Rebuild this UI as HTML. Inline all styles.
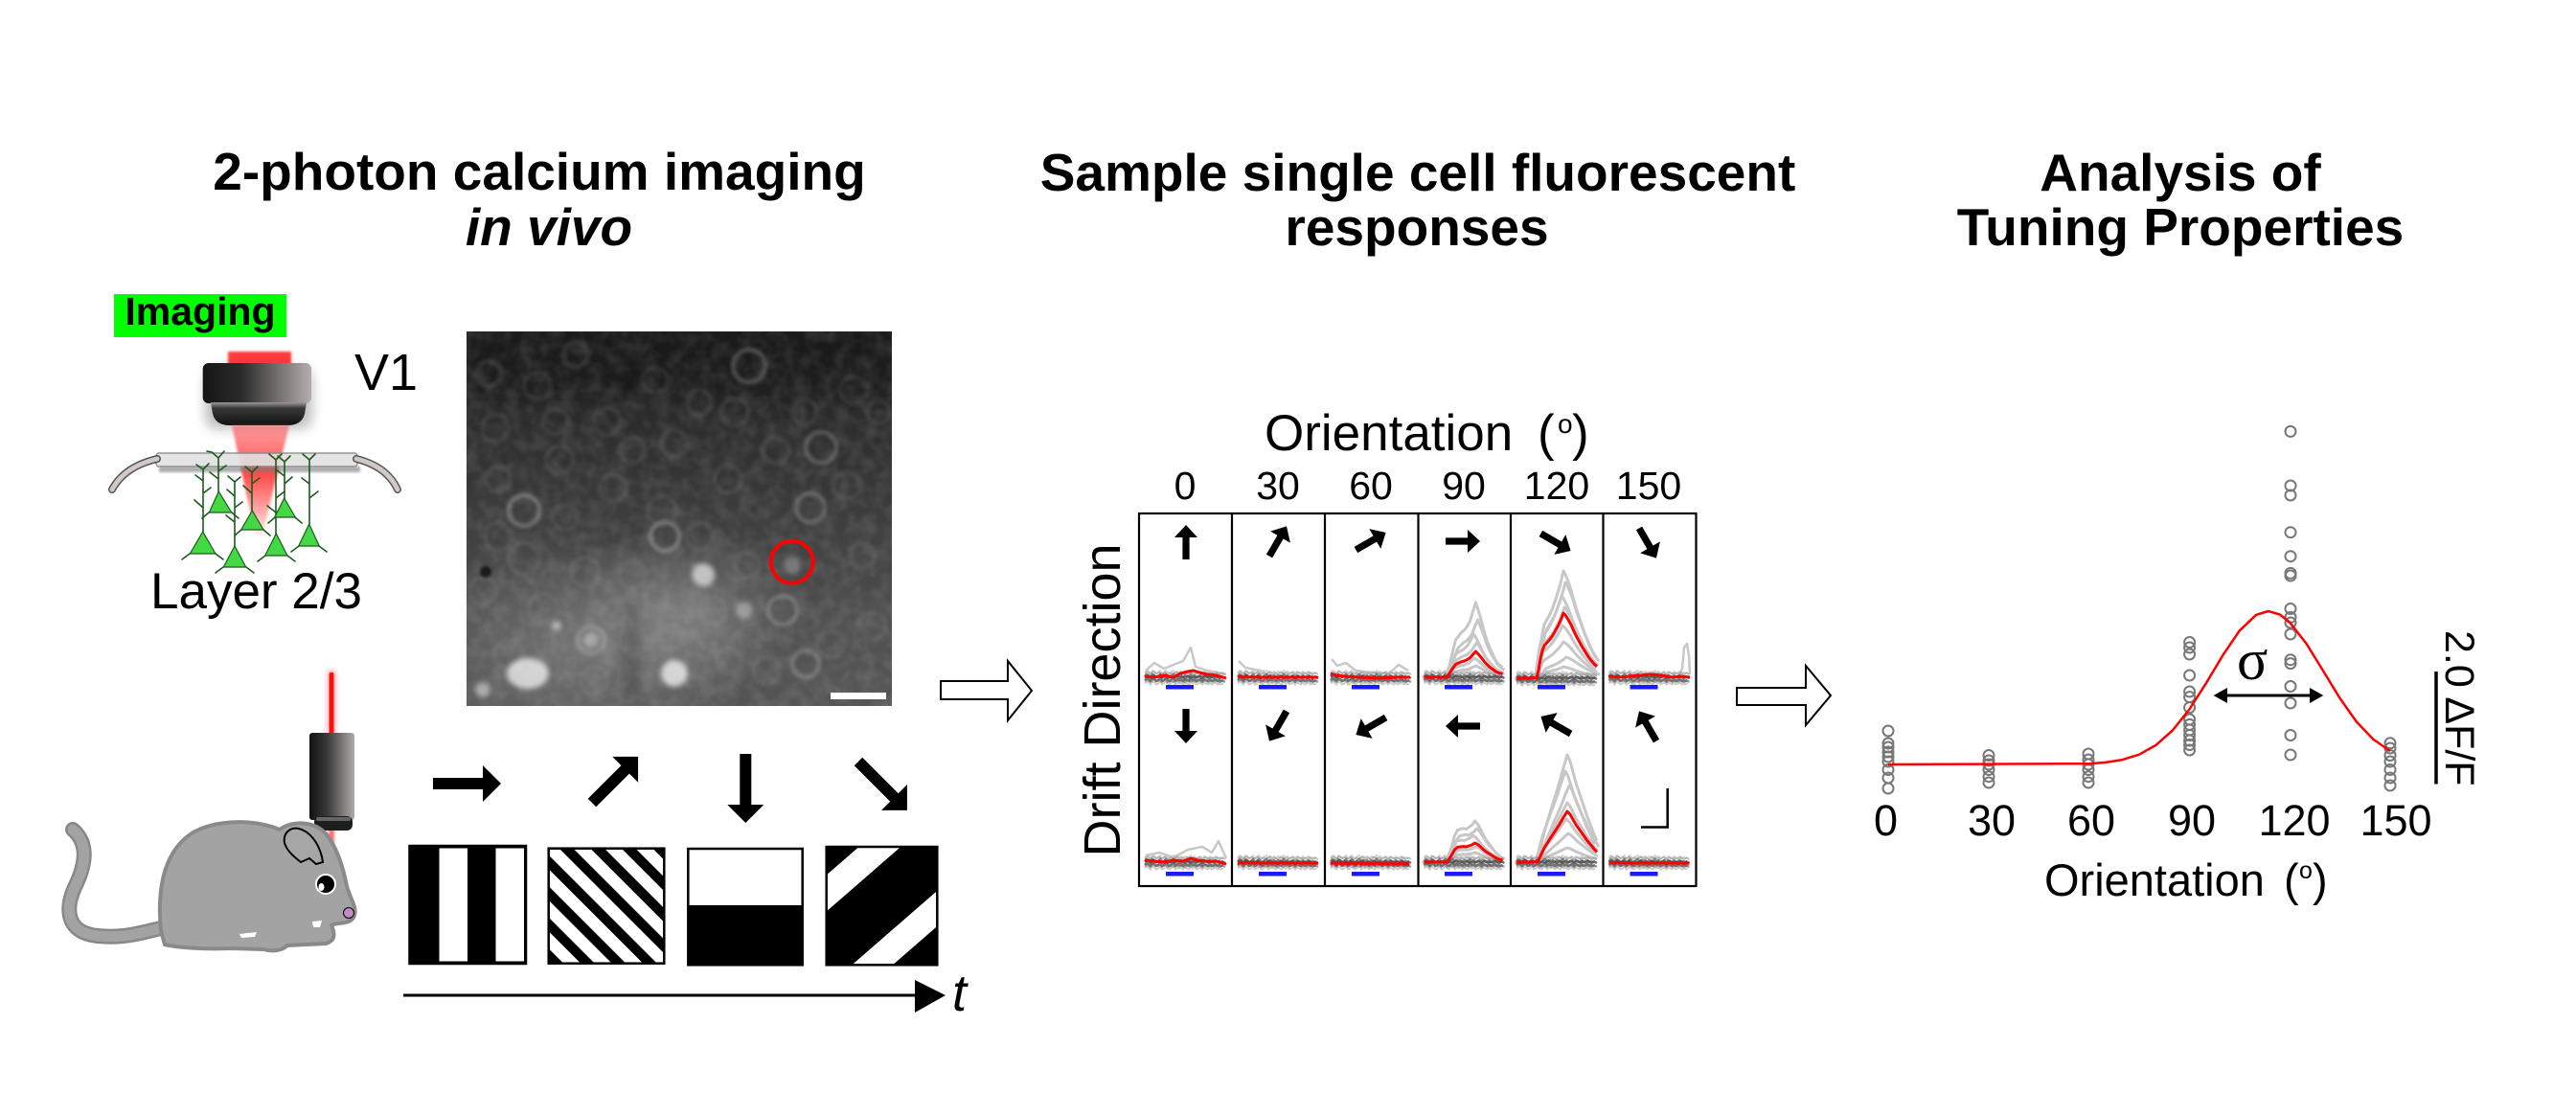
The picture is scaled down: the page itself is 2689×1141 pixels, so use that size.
<!DOCTYPE html>
<html><head><meta charset="utf-8"><style>
html,body{margin:0;padding:0;background:#fff;}
body{width:2689px;height:1141px;overflow:hidden;}
svg{display:block;}
text{font-family:"Liberation Sans",Arial,sans-serif;fill:#000;}
</style></head><body>
<svg width="2689" height="1141" viewBox="0 0 2689 1141" xmlns="http://www.w3.org/2000/svg">
<defs>
  <linearGradient id="objG" x1="0" x2="1" y1="0" y2="0">
    <stop offset="0" stop-color="#151515"/><stop offset="0.35" stop-color="#2a2a2a"/><stop offset="1" stop-color="#b5adad"/>
  </linearGradient>
  <linearGradient id="objL" x1="0" x2="0" y1="0" y2="1">
    <stop offset="0" stop-color="#9a9a9a"/><stop offset="0.25" stop-color="#3a3a3a"/><stop offset="1" stop-color="#111"/>
  </linearGradient>
  <linearGradient id="cylG" x1="0" x2="1" y1="0" y2="0">
    <stop offset="0" stop-color="#111"/><stop offset="0.4" stop-color="#3a3a3a"/><stop offset="1" stop-color="#b0aaaa"/>
  </linearGradient>
  <linearGradient id="beamG" x1="0" x2="0" y1="0" y2="1">
    <stop offset="0" stop-color="#ff5050" stop-opacity="0.55"/><stop offset="0.45" stop-color="#ff2a2a" stop-opacity="0.85"/><stop offset="1" stop-color="#ff2a2a" stop-opacity="0.1"/>
  </linearGradient>
  <linearGradient id="mgG" x1="0" x2="0" y1="0" y2="1">
    <stop offset="0" stop-color="#1e1e1e"/><stop offset="0.35" stop-color="#333"/><stop offset="0.6" stop-color="#454545"/><stop offset="1" stop-color="#555"/>
  </linearGradient>
  <radialGradient id="brightG">
    <stop offset="0" stop-color="#fff" stop-opacity="0.22"/><stop offset="1" stop-color="#fff" stop-opacity="0"/>
  </radialGradient>
  <filter id="b1" x="-50%" y="-50%" width="200%" height="200%"><feGaussianBlur stdDeviation="1.2"/></filter>
  <filter id="b2" x="-50%" y="-50%" width="200%" height="200%"><feGaussianBlur stdDeviation="2"/></filter>
  <filter id="b3" x="-50%" y="-50%" width="200%" height="200%"><feGaussianBlur stdDeviation="3"/></filter>
  <filter id="b6" x="-50%" y="-50%" width="200%" height="200%"><feGaussianBlur stdDeviation="6"/></filter>
  <filter id="noise" x="0" y="0" width="100%" height="100%">
    <feTurbulence type="fractalNoise" baseFrequency="0.07" numOctaves="2" seed="3" result="t"/>
    <feColorMatrix type="matrix" values="0 0 0 0 1  0 0 0 0 1  0 0 0 0 1  0.9 0 0 0 -0.3"/>
  </filter>
  <clipPath id="mgClip"><rect x="487" y="346" width="444" height="391"/></clipPath>
  <clipPath id="g4c"><rect x="862.7" y="884" width="115.6" height="123.3"/></clipPath>
  <pattern id="diag" patternUnits="userSpaceOnUse" width="23" height="23" patternTransform="rotate(-45)">
    <rect x="0" y="0" width="23" height="23" fill="#000"/>
    <rect x="3.8" y="0" width="12.7" height="23" fill="#fff"/>
  </pattern>
  <path id="n1" vector-effect="non-scaling-stroke" d="M6 0 l3 -1.5 l3 2 l3 -2.5 l3 2 l3 -1 l3 1.5 l3 -2 l3 2.5 l3 -1.5 l3 1 l3 -2 l3 2 l3 -1 l3 1.5 l3 -2.5 l3 2 l3 -1 l3 1 l3 -1.5 l3 2 l3 -2 l3 1.5 l3 -1 l3 1 l3 -1.5 l3 2 l3 -1.5 l3 1.5"/>
  <path id="n2" vector-effect="non-scaling-stroke" d="M6 1 l2 -2 l2 1 l2 2 l2 -3 l2 1 l2 2 l2 -1 l2 -2 l2 3 l2 -1 l2 -2 l2 2 l2 1 l2 -2 l2 -1 l2 3 l2 -2 l2 1 l2 -1 l2 2 l2 -2 l2 1 l2 1 l2 -3 l2 2 l2 -1 l2 2 l2 -1 l2 -1 l2 2 l2 -2 l2 1 l2 1 l2 -2 l2 2 l2 -1 l2 -1 l2 2 l2 -1 l2 1 l2 -1"/>
  <path id="h120" vector-effect="non-scaling-stroke" d="M6 0 L10 1 L14 -1 L18 1 L22 -1 L27 0 L29 -12 L31 -30 L33 -42 L35 -50 L38 -55 L41 -60 L44 -66 L47 -74 L50 -82 L53 -92 L55 -100 L57 -97 L60 -90 L63 -82 L66 -72 L69 -63 L72 -55 L75 -47 L78 -40 L81 -33 L84 -27 L87 -22 L90 -18"/>
  <path id="h90" vector-effect="non-scaling-stroke" d="M6 0 L10 -1 L14 1 L18 -1 L22 1 L26 0 L30 0 L33 -18 L36 -35 L39 -50 L42 -55 L45 -60 L48 -63 L51 -68 L54 -75 L57 -88 L60 -100 L63 -88 L66 -75 L69 -60 L72 -48 L75 -38 L78 -30 L81 -22 L84 -17 L88 -13"/>
  <path id="h90b" vector-effect="non-scaling-stroke" d="M6 0 L10 1 L14 -1 L18 1 L22 -1 L26 0 L30 0 L34 -30 L38 -65 L41 -78 L44 -80 L47 -82 L50 -80 L53 -85 L56 -90 L59 -100 L62 -92 L65 -80 L68 -65 L72 -50 L76 -38 L80 -25 L84 -15 L88 -10"/>
  <path id="h120b" vector-effect="non-scaling-stroke" d="M6 0 L10 1 L14 -1 L18 1 L22 -1 L28 0 L31 -12 L35 -28 L39 -40 L43 -52 L47 -63 L51 -75 L55 -88 L59 -100 L62 -94 L65 -84 L68 -74 L71 -66 L74 -58 L77 -50 L80 -42 L84 -33 L87 -26 L90 -20"/>
  <polygon id="sa" points="-18,-3.6 5,-3.6 5,-12 18,0 5,12 5,3.6 -18,3.6"/>
  <g id="band" fill="none">
    <use href="#n2" transform="translate(0,-6)" stroke="#c4c4c4" stroke-width="2" opacity="0.7"/>
    <use href="#n1" transform="translate(0,-4)" stroke="#999" stroke-width="2" opacity="0.6"/>
    <use href="#n2" transform="translate(0,-2)" stroke="#555" stroke-width="2.5" opacity="0.7"/>
    <use href="#n1" transform="translate(0,0)" stroke="#444" stroke-width="2.5" opacity="0.7"/>
    <use href="#n2" transform="translate(0,2)" stroke="#444" stroke-width="2.5" opacity="0.7"/>
    <use href="#n1" transform="translate(0,4)" stroke="#666" stroke-width="2.5" opacity="0.6"/>
    <use href="#n2" transform="translate(0,5.5)" stroke="#999" stroke-width="2" opacity="0.5"/>
  </g>
</defs>

<rect x="0" y="0" width="2689" height="1141" fill="#fff"/>

<!-- ============ TITLES ============ -->
<text x="563" y="198" font-size="55" font-weight="bold" text-anchor="middle">2-photon calcium imaging</text>
<text x="573" y="256" font-size="55" font-weight="bold" font-style="italic" text-anchor="middle">in vivo</text>
<text x="1480" y="199" font-size="55" font-weight="bold" text-anchor="middle">Sample single cell fluorescent</text>
<text x="1479" y="256" font-size="55" font-weight="bold" text-anchor="middle">responses</text>
<text x="2276" y="199" font-size="55" font-weight="bold" text-anchor="middle">Analysis of</text>
<text x="2276" y="256" font-size="55" font-weight="bold" text-anchor="middle">Tuning Properties</text>

<!-- ============ LEFT: imaging schematic ============ -->
<rect x="119" y="307" width="180" height="45" fill="#00ff00"/>
<text x="209" y="339" font-size="41" font-weight="bold" text-anchor="middle">Imaging</text>
<text x="370" y="407" font-size="54">V1</text>

<rect x="238" y="367" width="66" height="14" fill="#ff3b3b" filter="url(#b1)"/>
<rect x="214" y="384" width="112" height="64" rx="12" fill="#000" opacity="0.25" filter="url(#b6)"/>
<rect x="211.7" y="379" width="113.3" height="42" rx="6" fill="url(#objG)"/>
<path d="M220 420 L320 420 L318 432 Q315 444 300 444 L240 444 Q225 444 222 432 Z" fill="url(#objL)"/>
<polygon points="242,444 302,444 274,558 266,558" fill="url(#beamG)" filter="url(#b1)"/>

<rect x="166" y="487" width="210" height="6" fill="#777" opacity="0.6" filter="url(#b1)"/>
<rect x="163" y="473" width="210" height="14" rx="3" fill="#e2e2e2" stroke="#8a8a8a" stroke-width="1.5" opacity="0.9"/>
<path d="M117 511 Q130 487 164 479" fill="none" stroke="#555" stroke-width="8" stroke-linecap="round"/>
<path d="M117 511 Q130 487 164 479" fill="none" stroke="#d2c8c8" stroke-width="5" stroke-linecap="round"/>
<path d="M372 479 Q404 487 415 511" fill="none" stroke="#555" stroke-width="8" stroke-linecap="round"/>
<path d="M372 479 Q404 487 415 511" fill="none" stroke="#d2c8c8" stroke-width="5" stroke-linecap="round"/>

<g stroke="#1d5a1d" stroke-width="1.6" fill="none" stroke-linecap="round">
  <path d="M228 513 V478 M228 478 l-7 -6 M228 478 l6 -7 M228 500 l-9 -7 M228 492 l8 -6 M221 472 l-5 -1"/>
  <path d="M263 533 V493 M263 493 l-7 -6 M263 493 l6 -6 M263 515 l-9 -8 M263 505 l8 -6"/>
  <path d="M297 520 V482 M297 482 l-7 -6 M297 482 l6 -6 M297 505 l8 -7 M297 497 l-8 -6"/>
  <path d="M212 555 V490 M212 490 l-7 -5 M212 490 l6 -6 M212 530 l-9 -8 M212 515 l8 -6 M212 502 l-8 -6"/>
  <path d="M245 570 V503 M245 503 l-7 -6 M245 503 l6 -5 M245 545 l-9 -7 M245 530 l8 -6 M245 518 l-8 -7"/>
  <path d="M288 557 V480 M288 480 l-7 -6 M288 480 l6 -6 M288 535 l-9 -7 M288 520 l9 -7"/>
  <path d="M323 547 V480 M323 480 l-7 -6 M323 480 l6 -6 M323 520 l9 -7 M323 505 l-8 -6"/>
  <path d="M218 535 l-7 6 M242 535 l7 6 M252 553 l-7 6 M275 553 l7 6 M287 540 l-7 6 M308 540 l7 6 M198 578 l-8 6 M225 578 l8 6 M233 592 l-8 6 M257 592 l8 6 M277 580 l-8 6 M300 580 l8 6 M312 570 l-8 6 M333 570 l8 6"/>
</g>
<g fill="#44d944" stroke="#1d5a1d" stroke-width="1.2">
  <polygon points="228.3,513 218.3,535 241.7,535"/>
  <polygon points="263.3,533 251.7,553 275,553"/>
  <polygon points="296.7,520 286.7,540 308.3,540"/>
  <polygon points="211.7,555 198.3,578 225,578"/>
  <polygon points="245,570 233.3,592 256.7,592"/>
  <polygon points="288.3,557 276.7,580 300,580"/>
  <polygon points="322.7,547 311.7,570 333.3,570"/>
</g>
<text x="157" y="635" font-size="53">Layer 2/3</text>

<!-- ============ Micrograph ============ -->
<g clip-path="url(#mgClip)">
  <rect x="487" y="346" width="444" height="391" fill="url(#mgG)"/>
  <ellipse cx="610" cy="670" rx="190" ry="110" fill="url(#brightG)"/>
  <ellipse cx="720" cy="640" rx="130" ry="90" fill="url(#brightG)"/>
  <ellipse cx="880" cy="690" rx="80" ry="70" fill="#585858" opacity="0.4" filter="url(#b6)"/>
  <rect x="487" y="346" width="444" height="70" fill="#111" opacity="0.3" filter="url(#b6)"/>
  <ellipse cx="657" cy="680" rx="12" ry="50" fill="#222" opacity="0.25" filter="url(#b6)"/>
  <rect x="487" y="346" width="444" height="391" filter="url(#noise)" opacity="0.22"/>
  <g fill="none" stroke="#a0a0a0" stroke-width="3" opacity="0.22" filter="url(#b2)">
    <circle cx="547" cy="533" r="16"/><circle cx="691" cy="533" r="15"/><circle cx="694" cy="560" r="15"/>
    <circle cx="547" cy="583" r="16"/><circle cx="611" cy="597" r="15"/><circle cx="504" cy="617" r="14"/>
    <circle cx="567" cy="635" r="15"/><circle cx="531" cy="683" r="15"/><circle cx="911" cy="653" r="14"/>
    <circle cx="867" cy="673" r="14"/><circle cx="744" cy="637" r="14"/><circle cx="561" cy="403" r="14"/>
    <circle cx="634" cy="440" r="14"/><circle cx="704" cy="463" r="14"/><circle cx="584" cy="480" r="14"/>
    <circle cx="517" cy="447" r="14"/><circle cx="767" cy="430" r="14"/><circle cx="891" cy="407" r="14"/>
    <circle cx="884" cy="507" r="14"/><circle cx="917" cy="430" r="12"/><circle cx="601" cy="370" r="13"/>
    <circle cx="684" cy="397" r="13"/><circle cx="640" cy="510" r="14"/><circle cx="760" cy="500" r="14"/>
    <circle cx="810" cy="470" r="14"/><circle cx="520" cy="500" r="13"/><circle cx="660" cy="600" r="14"/>
    <circle cx="800" cy="700" r="14"/><circle cx="760" cy="690" r="13"/><circle cx="900" cy="580" r="13"/>
    <circle cx="840" cy="430" r="13"/><circle cx="730" cy="420" r="13"/><circle cx="620" cy="710" r="14"/>
    <circle cx="520" cy="560" r="14"/><circle cx="580" cy="440" r="13"/><circle cx="660" cy="470" r="13"/>
    <circle cx="730" cy="560" r="14"/><circle cx="780" cy="590" r="13"/><circle cx="590" cy="540" r="13"/>
    <circle cx="510" cy="390" r="13"/><circle cx="640" cy="640" r="13"/><circle cx="700" cy="665" r="13"/>
  </g>
  <g fill="none" stroke="#cfcfcf" stroke-width="3" opacity="0.4" filter="url(#b2)">
    <circle cx="782" cy="382" r="17"/><circle cx="857" cy="467" r="16"/><circle cx="846" cy="530" r="15"/>
    <circle cx="617" cy="668" r="14"/><circle cx="841" cy="693" r="14"/><circle cx="817" cy="637" r="15"/>
    <circle cx="547" cy="533" r="16"/><circle cx="694" cy="560" r="15"/>
  </g>
  <g fill="#fff" filter="url(#b3)">
    <ellipse cx="551" cy="703" rx="22" ry="16" opacity="0.7"/>
    <circle cx="704" cy="703" r="14" opacity="0.7"/>
    <circle cx="734" cy="600" r="12" opacity="0.6"/>
    <circle cx="617" cy="668" r="8" opacity="0.35"/>
    <circle cx="581" cy="653" r="5" opacity="0.5"/>
    <circle cx="777" cy="637" r="9" opacity="0.35"/>
    <circle cx="504" cy="720" r="8" opacity="0.45"/>
    <circle cx="827" cy="590" r="9" opacity="0.25"/>
  </g>
  <circle cx="507" cy="597" r="6" fill="#111" opacity="0.8" filter="url(#b1)"/>
  <circle cx="657" cy="397" r="8" fill="#111" opacity="0.5" filter="url(#b3)"/>
</g>
<circle cx="826.7" cy="586.7" r="22" fill="none" stroke="#ff0000" stroke-width="4"/>
<rect x="867" y="723" width="58" height="7" fill="#fff"/>

<polygon points="982,711 1052,711 1052,690 1077,721 1052,752 1052,730 982,730" fill="#fff" stroke="#000" stroke-width="2"/>

<!-- ============ Mouse + laser ============ -->
<rect x="342" y="700" width="8" height="66" fill="#ff0000" opacity="0.35" filter="url(#b3)"/>
<rect x="343.5" y="702" width="5" height="64" rx="2" fill="#ff1010"/>
<rect x="343" y="866" width="6" height="14" fill="#ff3030" opacity="0.7" filter="url(#b1)"/>
<rect x="323" y="765" width="47" height="91" rx="3" fill="url(#cylG)"/>
<rect x="328" y="852" width="40" height="15" rx="6" fill="#1e1e1e"/>
<rect x="330" y="853" width="36" height="4" rx="2" fill="#666"/>

<path d="M76 866 C 92 880, 90 900, 80 922 C 66 950, 70 974, 102 977 C 130 980, 150 973, 172 968" fill="none" stroke="#888" stroke-width="16" stroke-linecap="round"/>
<path d="M76 866 C 92 880, 90 900, 80 922 C 66 950, 70 974, 102 977 C 130 980, 150 973, 172 968" fill="none" stroke="#a3a3a3" stroke-width="11" stroke-linecap="round"/>
<path d="M168 972 C 164 930, 170 890, 200 870 C 225 855, 265 855, 292 866 C 302 858, 325 855, 340 870 C 352 885, 358 905, 362 925 C 366 940, 374 948, 369 958 C 363 966, 352 962, 346 966 C 350 975, 350 982, 340 985 L 300 987 C 295 992, 285 994, 275 991 L 240 990 C 220 991, 190 990, 172 986 Z" fill="#a3a3a3" stroke="#8a8a8a" stroke-width="4"/>
<path d="M297 880 C 295 868, 305 862, 315 866 C 327 871, 335 885, 337 900 L 330 902 L 323 896 L 314 900 C 305 893, 299 887, 297 880 Z" fill="#a6a6a6" stroke="#000" stroke-width="2"/>
<circle cx="340" cy="923" r="10" fill="#000" stroke="#fff" stroke-width="2"/>
<ellipse cx="335.5" cy="926" rx="3" ry="4" fill="#fff"/>
<circle cx="364" cy="953" r="5.5" fill="#c48ac4" stroke="#000" stroke-width="1"/>
<path d="M326 962 L336 961 L334 968 L327 968 Z" fill="#fff"/>
<path d="M250 975 L268 973 L266 978 L252 979 Z" fill="#fff"/>

<!-- ============ Gratings and arrows ============ -->
<g fill="#000">
  <g transform="translate(452,818) rotate(0)"><polygon points="0,-6 52,-6 52,-19 71,0 52,19 52,6 0,6"/></g>
  <g transform="translate(618,838) rotate(-45)"><polygon points="0,-6 49,-6 49,-19 68,0 49,19 49,6 0,6"/></g>
  <g transform="translate(778.3,787) rotate(90)"><polygon points="0,-6 53,-6 53,-19 72,0 53,19 53,6 0,6"/></g>
  <g transform="translate(896,795) rotate(45)"><polygon points="0,-6 53,-6 53,-19 72,0 53,19 53,6 0,6"/></g>
</g>
<rect x="427.5" y="883" width="121.5" height="123" fill="#000"/>
<rect x="458.5" y="885.5" width="29.5" height="118" fill="#fff"/>
<rect x="517.5" y="885.5" width="29.5" height="118" fill="#fff"/>
<rect x="427.5" y="883" width="121.5" height="123" fill="none" stroke="#000" stroke-width="2.5"/>
<rect x="572.7" y="885.7" width="120.6" height="120" fill="url(#diag)"/>
<rect x="572.7" y="885.7" width="120.6" height="120" fill="none" stroke="#000" stroke-width="2.5"/>
<rect x="718.3" y="886" width="119.4" height="121.3" fill="#fff"/>
<rect x="718.3" y="945" width="119.4" height="62.3" fill="#000"/>
<rect x="718.3" y="886" width="119.4" height="121.3" fill="none" stroke="#000" stroke-width="2.5"/>
<g clip-path="url(#g4c)">
  <rect x="862.7" y="884" width="115.6" height="123.3" fill="#000"/>
  <polygon points="850,924.5 990,802.7 990,840.7 850,962.5" fill="#fff"/>
  <polygon points="850,1041.5 990,919.7 990,956.7 850,1078.5" fill="#fff"/>
</g>
<rect x="862.7" y="884" width="115.6" height="123.3" fill="none" stroke="#000" stroke-width="2.5"/>
<line x1="421" y1="1039" x2="960" y2="1039" stroke="#000" stroke-width="3"/>
<polygon points="955,1023 987,1039 955,1057" fill="#000"/>
<text x="994" y="1055" font-size="54" font-style="italic">t</text>

<!-- ============ MIDDLE: traces grid ============ -->
<text x="1320" y="470" font-size="53">Orientation</text>
<text x="1605" y="470" font-size="53">(</text>
<text x="1626" y="452" font-size="28">o</text>
<text x="1641" y="470" font-size="53">)</text>
<g font-size="41" text-anchor="middle">
  <text x="1237" y="521">0</text><text x="1334" y="521">30</text><text x="1431" y="521">60</text>
  <text x="1528" y="521">90</text><text x="1625" y="521">120</text><text x="1721" y="521">150</text>
</g>
<text transform="translate(1169,731) rotate(-90)" font-size="54" text-anchor="middle">Drift Direction</text>

<rect x="1189" y="536" width="581.5" height="389" fill="#fff" stroke="#000" stroke-width="2.2"/>
<g stroke="#000" stroke-width="2.2">
  <line x1="1286" y1="536" x2="1286" y2="925"/><line x1="1383" y1="536" x2="1383" y2="925"/>
  <line x1="1480.5" y1="536" x2="1480.5" y2="925"/><line x1="1577" y1="536" x2="1577" y2="925"/>
  <line x1="1673.5" y1="536" x2="1673.5" y2="925"/>
</g>

<g fill="#000">
  <use href="#sa" transform="translate(1238,566) rotate(-90)"/>
  <use href="#sa" transform="translate(1334,565) rotate(-60)"/>
  <use href="#sa" transform="translate(1431,565) rotate(-30)"/>
  <use href="#sa" transform="translate(1527,565) rotate(0)"/>
  <use href="#sa" transform="translate(1624,566) rotate(30)"/>
  <use href="#sa" transform="translate(1720,567) rotate(60)"/>
  <use href="#sa" transform="translate(1238,758) rotate(90)"/>
  <use href="#sa" transform="translate(1334,758) rotate(120)"/>
  <use href="#sa" transform="translate(1431,758) rotate(150)"/>
  <use href="#sa" transform="translate(1527,758) rotate(180)"/>
  <use href="#sa" transform="translate(1624,757) rotate(210)"/>
  <use href="#sa" transform="translate(1720,758) rotate(240)"/>
</g>

<g fill="none" stroke-linejoin="round">
  <g stroke="#9a9a9a" stroke-width="3" opacity="0.55">
    <use href="#h90" transform="translate(1480.5,707) scale(1,0.78)"/>
    <use href="#h90" transform="translate(1482.5,707) scale(1,0.6)"/>
    <use href="#h90" transform="translate(1478.5,707) scale(1,0.45)"/>
    <use href="#h90" transform="translate(1481.5,707) scale(1,0.36)"/>
    <use href="#h90" transform="translate(1479.5,707) scale(1,0.2)"/>
    <use href="#h90" transform="translate(1480.5,707) scale(1,0.12)"/>
  </g>
  <g stroke="#9a9a9a" stroke-width="3" opacity="0.55">
    <use href="#h120" transform="translate(1577,708) scale(1,1.12)"/>
    <use href="#h120" transform="translate(1579,708) scale(1,1.0)"/>
    <use href="#h120" transform="translate(1575,708) scale(1,0.86)"/>
    <use href="#h120" transform="translate(1578,708) scale(1,0.74)"/>
    <use href="#h120" transform="translate(1576,708) scale(1,0.55)"/>
    <use href="#h120" transform="translate(1577,708) scale(1,0.38)"/>
    <use href="#h120" transform="translate(1580,708) scale(1,0.22)"/>
    <use href="#h120" transform="translate(1577,708) scale(1,0.12)"/>
  </g>
  <g stroke="#9a9a9a" stroke-width="3" opacity="0.55">
    <use href="#h90b" transform="translate(1480.5,900) scale(1,0.43)"/>
    <use href="#h90b" transform="translate(1482.5,900) scale(1,0.35)"/>
    <use href="#h90b" transform="translate(1478.5,900) scale(1,0.28)"/>
    <use href="#h90b" transform="translate(1481.5,900) scale(1,0.16)"/>
    <use href="#h90b" transform="translate(1480.5,900) scale(1,0.1)"/>
  </g>
  <g stroke="#9a9a9a" stroke-width="3" opacity="0.55">
    <use href="#h120b" transform="translate(1577,900) scale(1,1.12)"/>
    <use href="#h120b" transform="translate(1575,900) scale(1,0.95)"/>
    <use href="#h120b" transform="translate(1579,900) scale(1,0.8)"/>
    <use href="#h120b" transform="translate(1577,900) scale(1,0.62)"/>
    <use href="#h120b" transform="translate(1576,900) scale(1,0.45)"/>
    <use href="#h120b" transform="translate(1578,900) scale(1,0.3)"/>
    <use href="#h120b" transform="translate(1577,900) scale(1,0.15)"/>
  </g>
  <path d="M1753 705 L1756 698 L1758 676 L1761 672 L1763 684 L1764 704" stroke="#c8c8c8" stroke-width="2.5"/>
  <path d="M1196 700 L1205 692 L1215 698 L1225 694 L1235 690 L1243 676 L1248 696 L1260 700 L1280 704" stroke="#c8c8c8" stroke-width="2.5"/>
  <path d="M1196 893 L1210 890 L1225 895 L1240 887 L1255 884 L1265 890 L1272 878 L1280 896" stroke="#c8c8c8" stroke-width="2.5"/>
  <path d="M1390 688 L1396 695 L1405 692 L1415 700 L1430 702 L1450 703 L1460 694 L1470 700" stroke="#c8c8c8" stroke-width="2.5"/>
  <path d="M1293 690 L1300 697 L1310 699 L1320 701" stroke="#c8c8c8" stroke-width="2.5"/>
</g>

<g>
  <use href="#band" transform="translate(1189,707)"/><use href="#band" transform="translate(1286,707)"/>
  <use href="#band" transform="translate(1383,707)"/><use href="#band" transform="translate(1480.5,707)"/>
  <use href="#band" transform="translate(1577,708)"/><use href="#band" transform="translate(1673.5,707)"/>
  <use href="#band" transform="translate(1189,900)"/><use href="#band" transform="translate(1286,900)"/>
  <use href="#band" transform="translate(1383,900)"/><use href="#band" transform="translate(1480.5,900)"/>
  <use href="#band" transform="translate(1577,900)"/><use href="#band" transform="translate(1673.5,900)"/>
</g>

<g fill="none" stroke="#ff0000" stroke-width="3" stroke-linejoin="round">
  <path d="M1195 706 L1205 707 L1215 705 L1225 707 L1232 703 L1240 701 L1246 700 L1252 702 L1260 704 L1270 705 L1280 708"/>
  <use href="#n1" transform="translate(1286,707) scale(1,0.6)"/>
  <path d="M1389 703 L1395 705 L1405 706 L1420 707 L1440 708 L1460 707 L1472 707"/>
  <use href="#h90" transform="translate(1480.5,707) scale(1,0.27)"/>
  <use href="#h120" transform="translate(1577,708) scale(1,0.68)"/>
  <path d="M1679 706 L1690 707 L1700 706 L1712 705 L1722 704 L1735 705 L1745 707 L1755 706 L1764 707"/>
  <path d="M1195 898 L1205 899 L1215 900 L1225 898 L1235 899 L1243 896 L1250 898 L1260 899 L1270 899 L1280 902"/>
  <use href="#n1" transform="translate(1286,901) scale(1,0.6)"/>
  <use href="#n2" transform="translate(1383,901) scale(1,0.6)"/>
  <use href="#h90b" transform="translate(1480.5,900) scale(1,0.2)"/>
  <use href="#h120b" transform="translate(1577,900) scale(1,0.53)"/>
  <use href="#n1" transform="translate(1673.5,901) scale(1,0.6)"/>
</g>

<g fill="#1a1aff">
  <rect x="1217" y="715" width="29" height="4.5"/><rect x="1314" y="715" width="29" height="4.5"/>
  <rect x="1411" y="715" width="29" height="4.5"/><rect x="1508" y="715" width="29" height="4.5"/>
  <rect x="1605" y="715" width="29" height="4.5"/><rect x="1701.5" y="715" width="29" height="4.5"/>
  <rect x="1217" y="910" width="29" height="4.5"/><rect x="1314" y="910" width="29" height="4.5"/>
  <rect x="1411" y="910" width="29" height="4.5"/><rect x="1508" y="910" width="29" height="4.5"/>
  <rect x="1605" y="910" width="29" height="4.5"/><rect x="1701.5" y="910" width="29" height="4.5"/>
</g>
<path d="M1713 863.5 H1740.7 V823" fill="none" stroke="#000" stroke-width="2.5"/>

<polygon points="1813,718 1885,718 1885,695 1911,726 1885,757 1885,736 1813,736" fill="#fff" stroke="#000" stroke-width="2"/>

<!-- ============ RIGHT: tuning curve ============ -->
<g fill="none" stroke="#777" stroke-width="2">
  <circle cx="1971" cy="763" r="5.5"/><circle cx="1971" cy="776" r="5.5"/><circle cx="1971" cy="780" r="5.5"/>
  <circle cx="1971" cy="785" r="5.5"/><circle cx="1971" cy="790" r="5.5"/><circle cx="1971" cy="795" r="5.5"/>
  <circle cx="1971" cy="803.5" r="5.5"/><circle cx="1971" cy="812" r="5.5"/><circle cx="1971" cy="823" r="5.5"/>
  <circle cx="2076" cy="788.5" r="5.5"/><circle cx="2076" cy="794" r="5.5"/><circle cx="2076" cy="798" r="5.5"/>
  <circle cx="2076" cy="803.5" r="5.5"/><circle cx="2076" cy="810.7" r="5.5"/><circle cx="2076" cy="817" r="5.5"/>
  <circle cx="2180" cy="787" r="5.5"/><circle cx="2180" cy="793" r="5.5"/><circle cx="2180" cy="798" r="5.5"/>
  <circle cx="2180" cy="803.5" r="5.5"/><circle cx="2180" cy="810.7" r="5.5"/><circle cx="2180" cy="817" r="5.5"/>
  <circle cx="2285.6" cy="670.5" r="5.5"/><circle cx="2285.6" cy="676" r="5.5"/><circle cx="2285.6" cy="683" r="5.5"/>
  <circle cx="2285.6" cy="705" r="5.5"/><circle cx="2285.6" cy="722" r="5.5"/><circle cx="2285.6" cy="727.6" r="5.5"/>
  <circle cx="2285.6" cy="738.6" r="5.5"/><circle cx="2285.6" cy="751" r="5.5"/><circle cx="2285.6" cy="756.4" r="5.5"/>
  <circle cx="2285.6" cy="762" r="5.5"/><circle cx="2285.6" cy="767.5" r="5.5"/><circle cx="2285.6" cy="773" r="5.5"/>
  <circle cx="2285.6" cy="777.5" r="5.5"/><circle cx="2285.6" cy="783" r="5.5"/>
  <circle cx="2391" cy="450.4" r="5.5"/><circle cx="2391" cy="507" r="5.5"/><circle cx="2391" cy="517" r="5.5"/>
  <circle cx="2391" cy="555.7" r="5.5"/><circle cx="2391" cy="580.7" r="5.5"/><circle cx="2391" cy="598.4" r="5.5"/>
  <circle cx="2391" cy="601" r="5.5"/><circle cx="2391" cy="635.5" r="5.5"/><circle cx="2391" cy="644.4" r="5.5"/>
  <circle cx="2391" cy="650" r="5.5"/><circle cx="2391" cy="662" r="5.5"/><circle cx="2391" cy="688.8" r="5.5"/>
  <circle cx="2391" cy="692.6" r="5.5"/><circle cx="2391" cy="716.5" r="5.5"/><circle cx="2391" cy="734" r="5.5"/>
  <circle cx="2391" cy="767.5" r="5.5"/><circle cx="2391" cy="788" r="5.5"/>
  <circle cx="2495" cy="775.8" r="5.5"/><circle cx="2495" cy="781" r="5.5"/><circle cx="2495" cy="788.5" r="5.5"/>
  <circle cx="2495" cy="795" r="5.5"/><circle cx="2495" cy="803.5" r="5.5"/><circle cx="2495" cy="812" r="5.5"/>
  <circle cx="2495" cy="820" r="5.5"/>
</g>
<path d="M1971 798 L2180.6 797.2 L2198 795.9 L2215.5 793.1 L2233 787.7 L2250.4 777.9 L2267.9 762.4 L2285.4 740.5 L2302.8 713.3 L2320.3 684.1 L2337.8 658.3 L2355.2 641.8 L2367.8 638 L2379.7 641.4 L2390.2 649.6 L2407.6 672 L2425.1 700.4 L2442.6 729 L2460 753.6 L2477.5 771.9 L2495 784" fill="none" stroke="#ff0000" stroke-width="2.5" stroke-linejoin="round"/>

<text x="2335" y="709" font-size="60" style="font-family:'Liberation Serif',serif">σ</text>
<line x1="2322" y1="726" x2="2414" y2="726" stroke="#000" stroke-width="3"/>
<polygon points="2310.6,726 2325,718 2325,734" fill="#000"/>
<polygon points="2425.3,726 2411,718 2411,734" fill="#000"/>

<line x1="2543" y1="701" x2="2543" y2="818.5" stroke="#000" stroke-width="3.5"/>
<text transform="translate(2553,658) rotate(90)" font-size="43">2.0 ΔF/F</text>

<g font-size="45" text-anchor="middle">
  <text x="1968.5" y="872">0</text><text x="2079" y="872">30</text><text x="2183" y="872">60</text>
  <text x="2288" y="872">90</text><text x="2395" y="872">120</text><text x="2501" y="872">150</text>
</g>
<text x="2134" y="935" font-size="47">Orientation</text>
<text x="2384" y="935" font-size="47">(</text>
<text x="2400" y="917" font-size="25">o</text>
<text x="2414" y="935" font-size="47">)</text>
</svg>
</body></html>
